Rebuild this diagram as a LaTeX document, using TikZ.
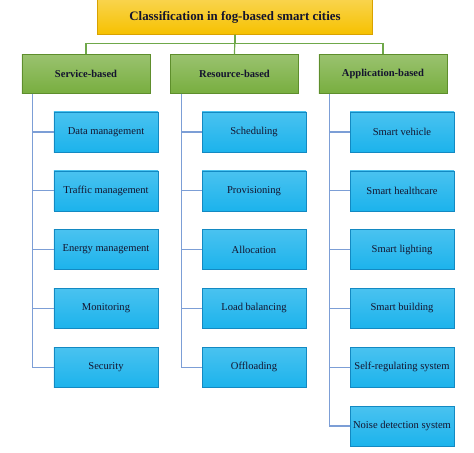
\documentclass[tikz,border=0pt]{standalone}
\usepackage{fontspec}
\setmainfont{Liberation Serif}
\usetikzlibrary{positioning}
\usetikzlibrary{calc}
\definecolor{rootfill}{HTML}{F6C100}
\definecolor{rootdraw}{HTML}{D9A200}
\definecolor{groupfill}{HTML}{78AE3F}
\definecolor{groupdraw}{HTML}{5E8E2C}
\definecolor{leaffill}{HTML}{1CB3EC}
\definecolor{leafdraw}{HTML}{1389C2}
\definecolor{greenline}{HTML}{6FA84A}
\definecolor{blueline}{HTML}{7C9ED6}
\definecolor{inktext}{HTML}{14142E}
\tikzset{rootbox/.style={draw=rootdraw,top color=rootfill!70!white,bottom color=rootfill,
            minimum width=8.25cm,minimum height=1.05cm,font=\bfseries\fontsize{11}{13}\selectfont,text=inktext},
         groupbox/.style={draw=groupdraw,top color=groupfill!75!white,bottom color=groupfill,
            minimum width=3.84cm,minimum height=1.17cm,font=\bfseries\small,text=inktext},
         leafbox/.style={draw=leafdraw,top color=leaffill!80!white,bottom color=leaffill,
            minimum width=3.12cm,minimum height=1.2cm,font=\small,text=inktext,inner sep=1pt},
         trunk/.style={draw=greenline,line width=1pt},
         branch/.style={draw=blueline,line width=1pt},
         }

\begin{document}
\begin{tikzpicture}[x=0.03cm,y=-0.03cm,node distance=0.55cm]
\useasboundingbox (0,0) rectangle (474,453);
\node[rootbox] (root) at (235,17) {Classification in fog-based smart cities};

\node[groupbox] (service) at (86,74) {Service-based};
\node[groupbox,right=0.6cm of service] (resource) {Resource-based};
\node[groupbox,right=0.6cm of resource] (application) {Application-based};

% service column
\node[leafbox] (data) at (106,132) {Data management};
\node[leafbox,below=of data] (traffic) {Traffic management};
\node[leafbox,below=of traffic] (energy) {Energy management};
\node[leafbox,below=of energy] (monitor) {Monitoring};
\node[leafbox,below=of monitor] (security) {Security};

% resource column
\node[leafbox] (sched) at (254,132) {Scheduling};
\node[leafbox,below=of sched] (prov) {Provisioning};
\node[leafbox,below=of prov] (alloc) {Allocation};
\node[leafbox,below=of alloc] (loadbal) {Load balancing};
\node[leafbox,below=of loadbal] (offload) {Offloading};

% application column
\node[leafbox] (vehicle) at (402,132) {Smart vehicle};
\node[leafbox,below=of vehicle] (health) {Smart healthcare};
\node[leafbox,below=of health] (light) {Smart lighting};
\node[leafbox,below=of light] (building) {Smart building};
\node[leafbox,below=of building] (selfreg) {Self-regulating system};
\node[leafbox,below=of selfreg] (noise) {Noise detection system};

% root to groups
\draw[trunk] (root.south) -- ++(0,9) -| (service.north);
\draw[trunk] (root.south) -- (resource.north);
\draw[trunk] (root.south) -- ++(0,9) -| (application.north);

% groups to leaves
\coordinate (sv) at ($(service.south west)+(11,0)$);
\coordinate (rs) at ($(resource.south west)+(11,0)$);
\coordinate (ap) at ($(application.south west)+(11,0)$);
\draw[branch] (sv) |- (data.west) (sv) |- (traffic.west) (sv) |- (energy.west)
              (sv) |- (monitor.west) (sv) |- (security.west);
\draw[branch] (rs) |- (sched.west) (rs) |- (prov.west) (rs) |- (alloc.west)
              (rs) |- (loadbal.west) (rs) |- (offload.west);
\draw[branch] (ap) |- (vehicle.west) (ap) |- (health.west) (ap) |- (light.west)
              (ap) |- (building.west) (ap) |- (selfreg.west) (ap) |- (noise.west);
\end{tikzpicture}
\end{document}
